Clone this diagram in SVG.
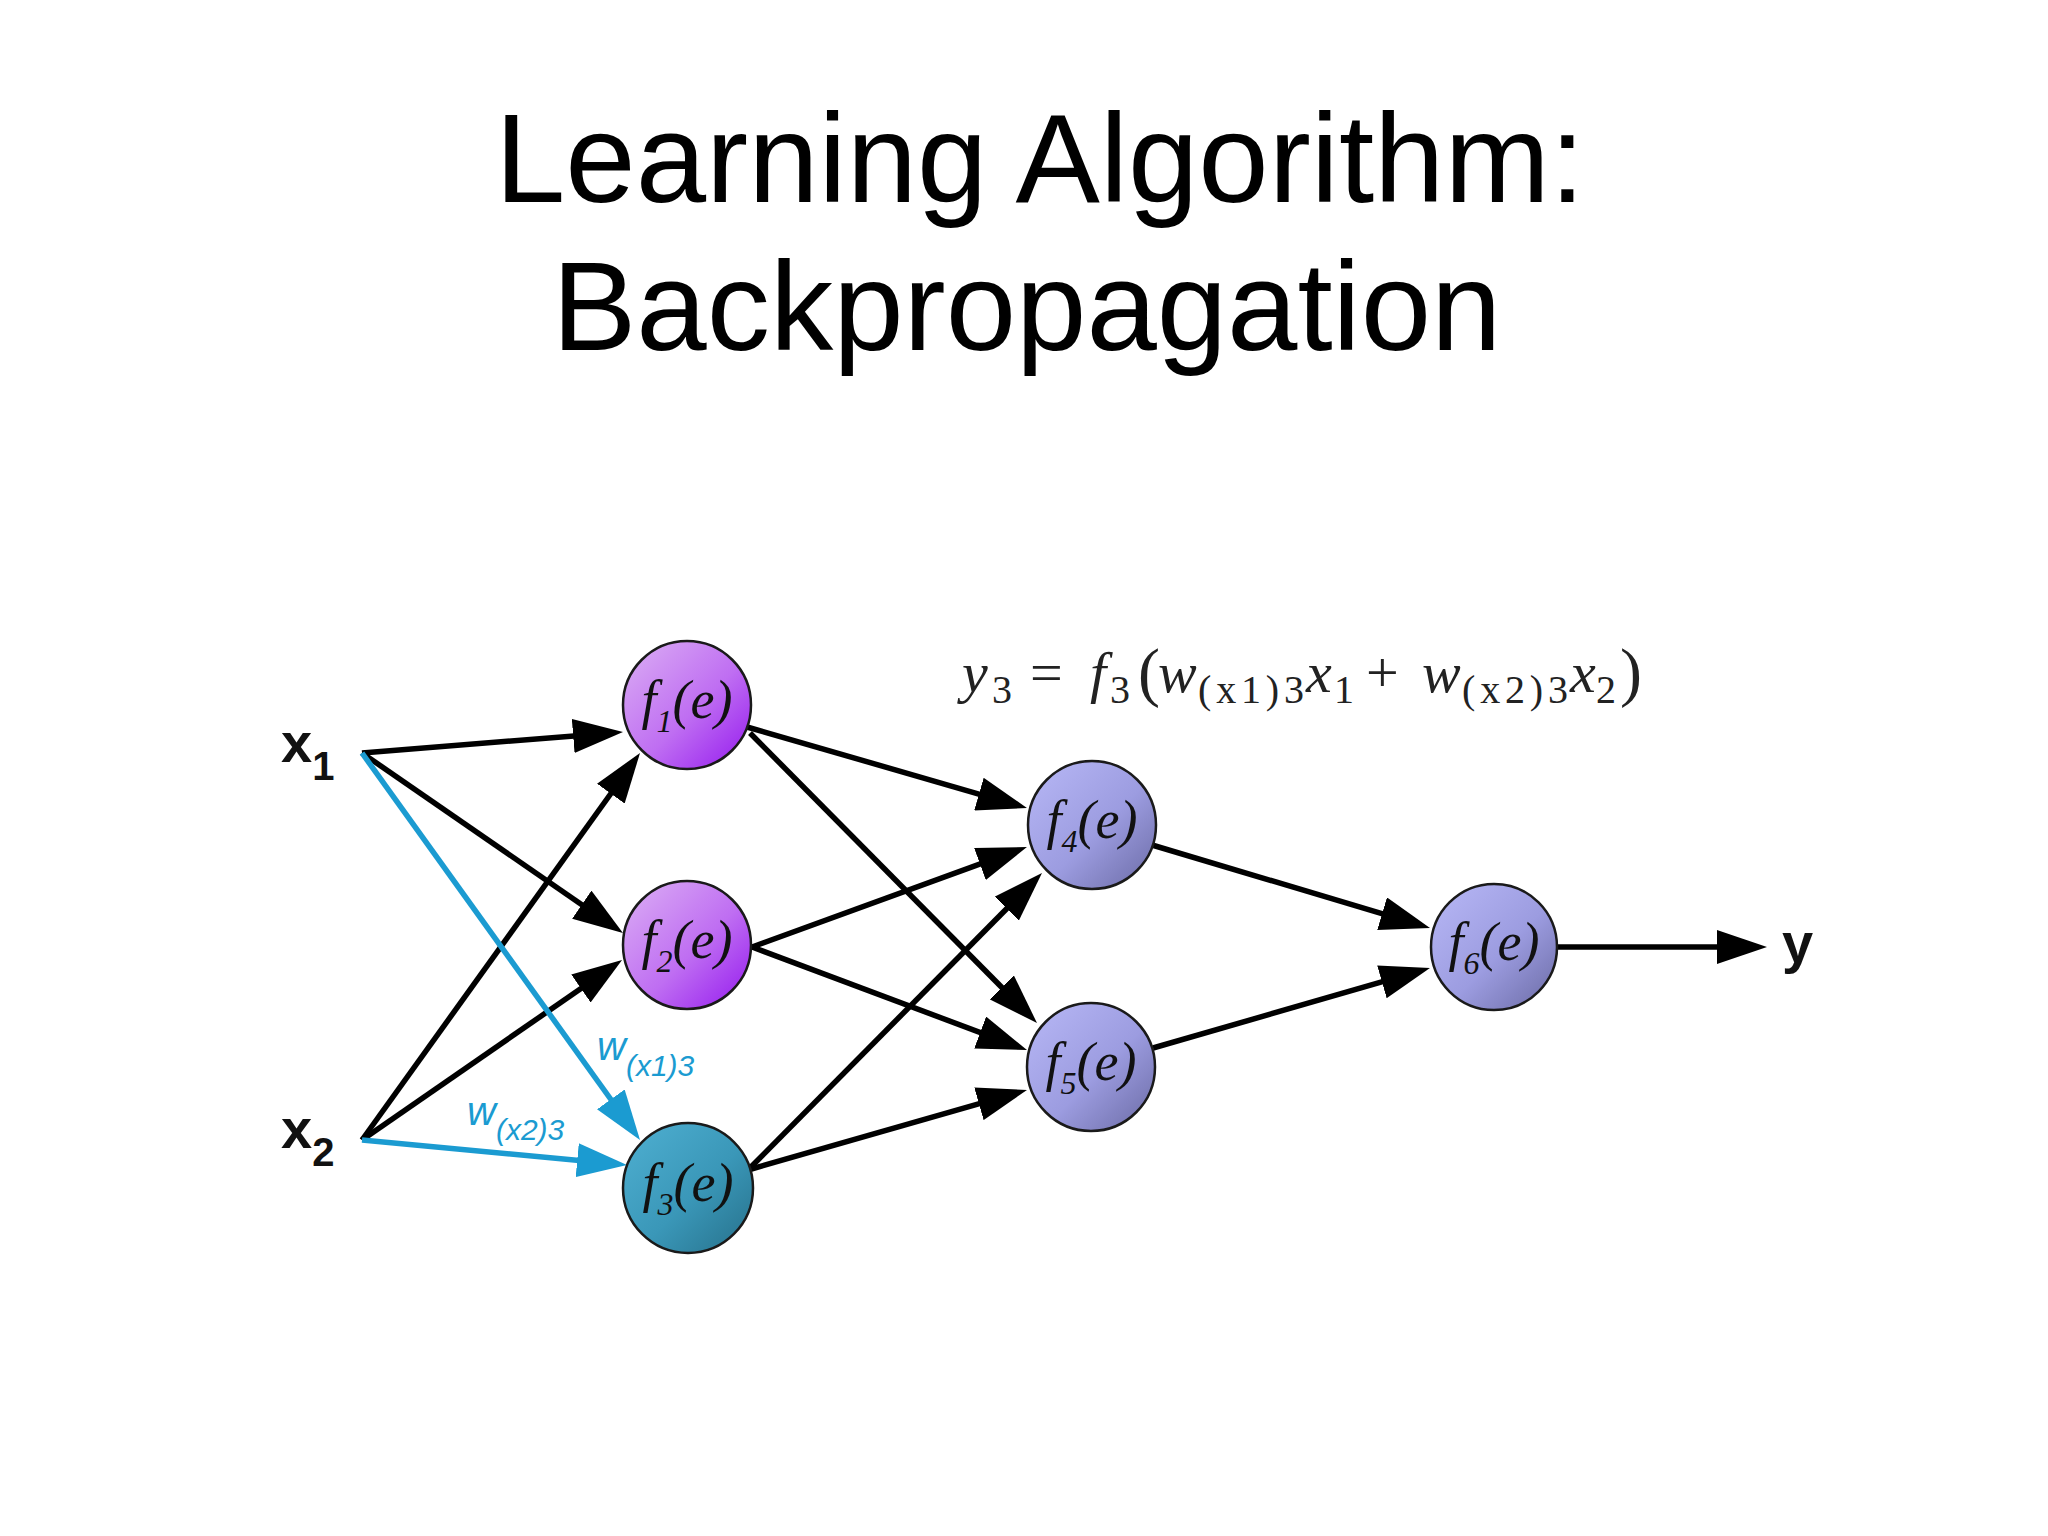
<svg xmlns="http://www.w3.org/2000/svg" width="2048" height="1536" viewBox="0 0 2048 1536">
<style>
.title{font-family:"Liberation Sans",Arial,sans-serif;font-size:126.5px;fill:#000}
.lbl{font-family:"Liberation Sans",Arial,sans-serif;font-weight:bold;fill:#111}
.fn{font-family:"Liberation Serif","Times New Roman",serif;font-style:italic;font-size:54px;fill:#111}
.wl{font-family:"Liberation Sans",Arial,sans-serif;font-style:italic;fill:#1b9bd1}
.eq{font-family:"Liberation Serif","Times New Roman",serif;fill:#222}
.edge{stroke:#000;stroke-width:5.5;fill:none}
.bedge{stroke:#1b9bd1;stroke-width:5.5;fill:none}
.node{stroke:#1a1a1a;stroke-width:2.5}
</style>
<defs>
<marker id="ah" markerUnits="userSpaceOnUse" markerWidth="50" markerHeight="34" refX="26" refY="17" orient="auto">
<path d="M0,0 L50,17 L0,34 z" fill="#000"/>
</marker>
<marker id="bh" markerUnits="userSpaceOnUse" markerWidth="50" markerHeight="34" refX="26" refY="17" orient="auto">
<path d="M0,0 L50,17 L0,34 z" fill="#1b9bd1"/>
</marker>
<linearGradient id="gp" x1="0" y1="0" x2="1" y2="1">
<stop offset="0" stop-color="#dcb0f4"/>
<stop offset="0.55" stop-color="#bf6ef2"/>
<stop offset="1" stop-color="#9418ee"/>
</linearGradient>
<linearGradient id="gt" x1="0" y1="0" x2="1" y2="1">
<stop offset="0" stop-color="#4fb0d2"/>
<stop offset="0.55" stop-color="#3a97b8"/>
<stop offset="1" stop-color="#26708a"/>
</linearGradient>
<linearGradient id="gl" x1="0" y1="0" x2="1" y2="1">
<stop offset="0" stop-color="#b8b8f6"/>
<stop offset="0.55" stop-color="#9c9ce0"/>
<stop offset="1" stop-color="#6a6aa4"/>
</linearGradient>
</defs>
<rect width="2048" height="1536" fill="#fff"/>
<g id="title">
<text class="title" x="495" y="202">Learning Algorithm:</text>
<text class="title" x="552" y="350">Backpropagation</text>
</g>
<g id="connectors">
<line class="edge" x1="362" y1="753" x2="599.1" y2="733.9" marker-end="url(#ah)"/>
<line class="edge" x1="362" y1="753" x2="603.2" y2="919.4" marker-end="url(#ah)"/>
<line class="edge" x1="362" y1="1140" x2="626.0" y2="772.5" marker-end="url(#ah)"/>
<line class="edge" x1="362" y1="1140" x2="602.3" y2="973.7" marker-end="url(#ah)"/>
<line class="bedge" x1="362" y1="753" x2="626.0" y2="1120.5" marker-end="url(#bh)"/>
<line class="bedge" x1="362" y1="1140" x2="603.1" y2="1162.7" marker-end="url(#bh)"/>
<line class="edge" x1="747" y1="727" x2="1003.9" y2="801.3" marker-end="url(#ah)"/>
<line class="edge" x1="750" y1="733" x2="1020.1" y2="1005.9" marker-end="url(#ah)"/>
<line class="edge" x1="752" y1="947" x2="1004.4" y2="855.2" marker-end="url(#ah)"/>
<line class="edge" x1="752" y1="947" x2="1004.5" y2="1041.6" marker-end="url(#ah)"/>
<line class="edge" x1="748" y1="1170" x2="1025.1" y2="890.1" marker-end="url(#ah)"/>
<line class="edge" x1="748" y1="1170" x2="1003.9" y2="1096.6" marker-end="url(#ah)"/>
<line class="edge" x1="1152" y1="845" x2="1407.0" y2="921.1" marker-end="url(#ah)"/>
<line class="edge" x1="1153" y1="1048" x2="1406.9" y2="974.7" marker-end="url(#ah)"/>
<line class="edge" x1="1557" y1="947" x2="1743" y2="947" marker-end="url(#ah)"/>
</g>
<g id="x1"><text class="lbl" x="281" y="762" font-size="56">x<tspan font-size="40" dy="18">1</tspan></text></g>
<g id="x2"><text class="lbl" x="281" y="1148" font-size="56">x<tspan font-size="40" dy="18">2</tspan></text></g>
<g id="y"><text class="lbl" x="1782" y="962" font-size="56">y</text></g>
<g id="w1"><text class="wl" x="597" y="1060" font-size="40">w<tspan font-size="30" dy="16">(x1)3</tspan></text></g>
<g id="w2"><text class="wl" x="467" y="1125" font-size="40">w<tspan font-size="30" dy="15">(x2)3</tspan></text></g>
<g id="f1"><circle class="node" cx="687" cy="705" r="64" fill="url(#gp)"/><text class="fn" x="687" y="718" text-anchor="middle">f<tspan font-size="32" dy="14">1</tspan><tspan dy="-14">(e)</tspan></text></g>
<g id="f2"><circle class="node" cx="687" cy="945" r="64" fill="url(#gp)"/><text class="fn" x="687" y="958" text-anchor="middle">f<tspan font-size="32" dy="14">2</tspan><tspan dy="-14">(e)</tspan></text></g>
<g id="f3"><circle class="node" cx="688" cy="1188" r="65" fill="url(#gt)"/><text class="fn" x="688" y="1201" text-anchor="middle">f<tspan font-size="32" dy="14">3</tspan><tspan dy="-14">(e)</tspan></text></g>
<g id="f4"><circle class="node" cx="1092" cy="825" r="64" fill="url(#gl)"/><text class="fn" x="1092" y="838" text-anchor="middle">f<tspan font-size="32" dy="14">4</tspan><tspan dy="-14">(e)</tspan></text></g>
<g id="f5"><circle class="node" cx="1091" cy="1067" r="64" fill="url(#gl)"/><text class="fn" x="1091" y="1080" text-anchor="middle">f<tspan font-size="32" dy="14">5</tspan><tspan dy="-14">(e)</tspan></text></g>
<g id="f6"><circle class="node" cx="1494" cy="947" r="63" fill="url(#gl)"/><text class="fn" x="1494" y="960" text-anchor="middle">f<tspan font-size="32" dy="14">6</tspan><tspan dy="-14">(e)</tspan></text></g>
<g id="formula">
<text class="eq" y="692" font-size="58">
<tspan x="962" font-style="italic">y</tspan><tspan x="992" y="703" font-size="40">3</tspan>
<tspan x="1030" y="692">=</tspan>
<tspan x="1090" font-style="italic">f</tspan><tspan x="1110" y="703" font-size="40">3</tspan>
<tspan x="1138" y="694" font-size="66">(</tspan>
<tspan x="1158" y="692" font-style="italic">w</tspan><tspan x="1198" y="703" font-size="40" textLength="106" lengthAdjust="spacing">(x1)3</tspan>
<tspan x="1306" y="692" font-style="italic">x</tspan><tspan x="1334" y="703" font-size="40">1</tspan>
<tspan x="1366" y="692">+</tspan>
<tspan x="1422" font-style="italic">w</tspan><tspan x="1462" y="703" font-size="40" textLength="106" lengthAdjust="spacing">(x2)3</tspan>
<tspan x="1570" y="692" font-style="italic">x</tspan><tspan x="1596" y="703" font-size="40">2</tspan>
<tspan x="1620" y="694" font-size="66">)</tspan>
</text>
</g>
</svg>
